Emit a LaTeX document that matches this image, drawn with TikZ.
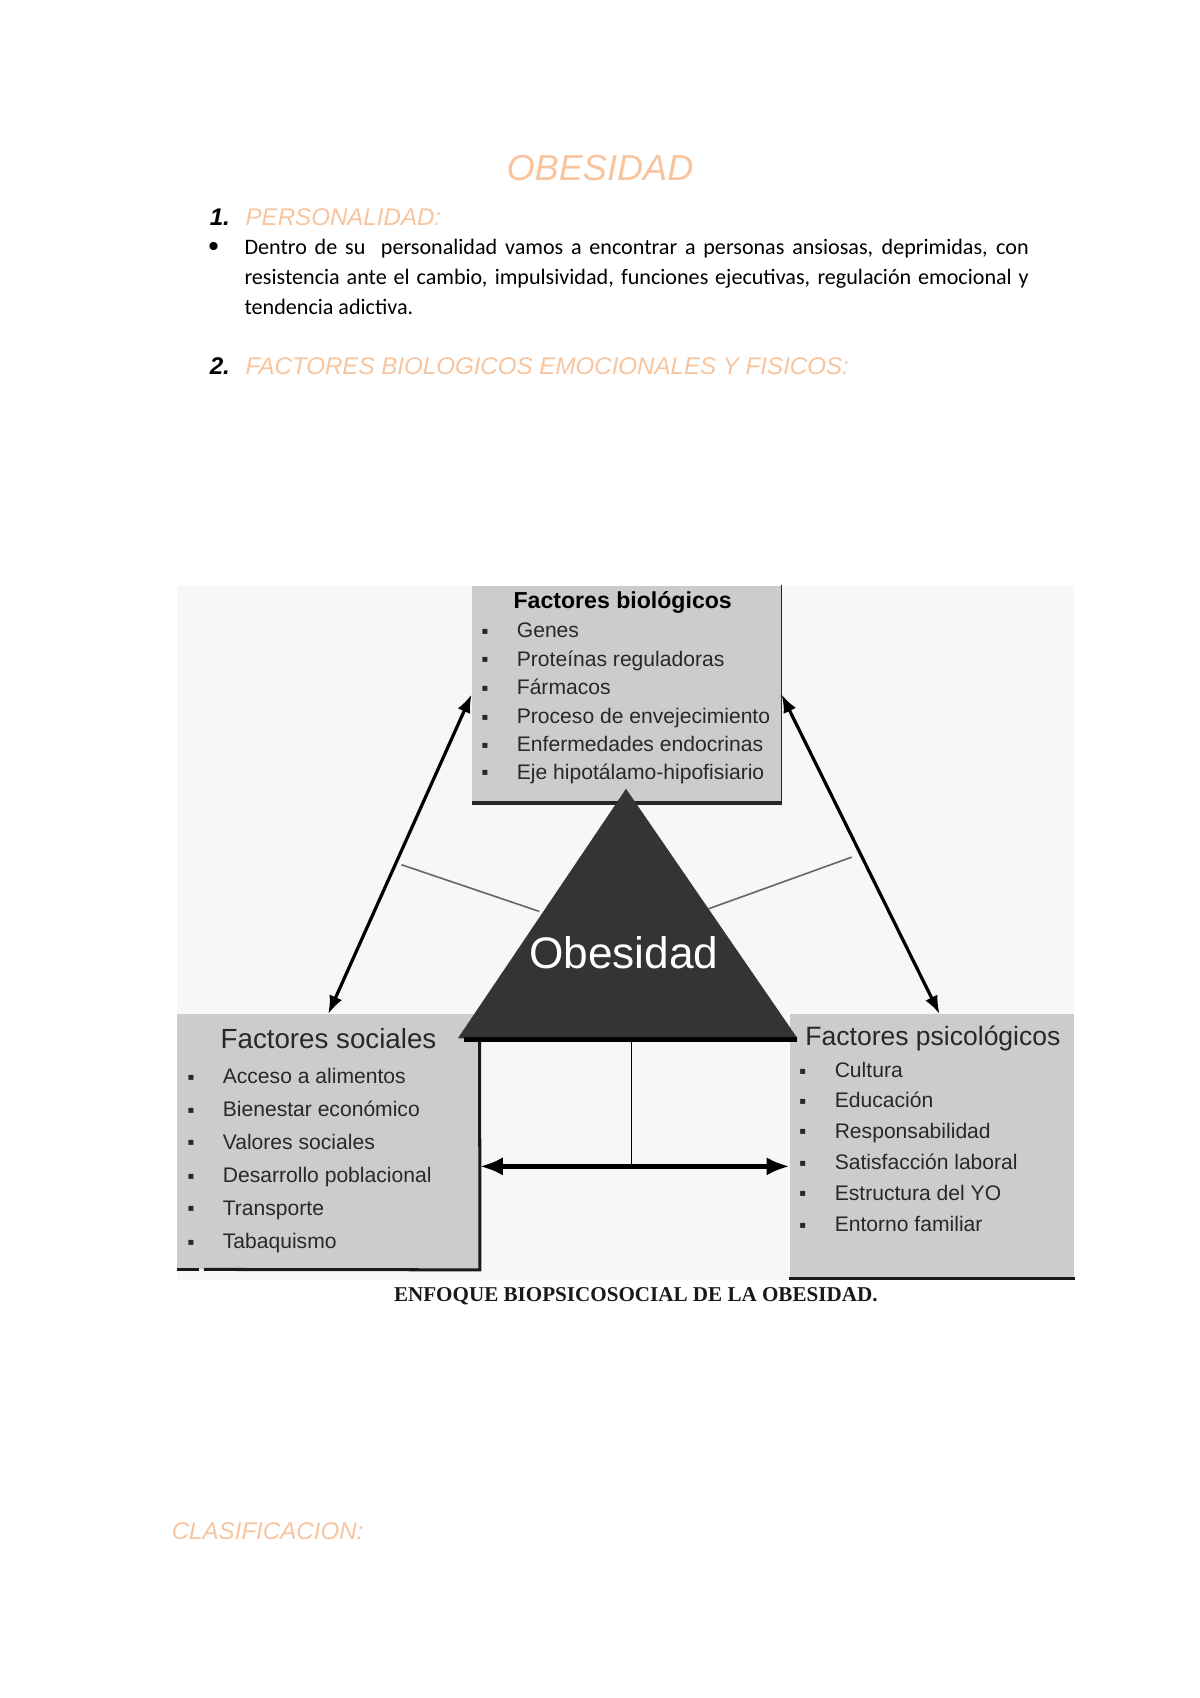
\documentclass[tikz,border=0pt]{standalone}
\usepackage{fontspec}
\setmainfont{Liberation Sans}
\newfontfamily\bodyfont{Carlito}
\newfontfamily\capfont{Liberation Serif}
\newfontfamily\symfont{DejaVu Sans}
\usepackage{tikz}
\usetikzlibrary{calc, positioning, shapes, arrows, arrows.meta, fit}
\definecolor{peach}{RGB}{247,196,158}
\definecolor{boxgray}{RGB}{204,204,204}
\definecolor{trigray}{RGB}{52,52,52}
\definecolor{txtgray}{RGB}{40,40,40}
\newcommand\factitem[4]{\node[anchor=base, inner sep=0, text=txtgray, font=\symfont\fontsize{5}{5}\selectfont] (#1b) at (#2,#3-3) {▪};\node[anchor=base west, inner sep=0, text=txtgray, font=\fontsize{10.5}{12}\selectfont] (#1) at (#2+29,#3) {#4};}
\newcommand\heading[4]{\node[anchor=base west, inner sep=0, font=\bfseries\itshape\fontsize{12}{14}\selectfont] (#1n) at (193,#2) {#3};\node[anchor=base west, inner sep=0, text=peach, font=\itshape\fontsize{12}{14}\selectfont] (#1) at (226,#2) {#4};}

\begin{document}
\begin{tikzpicture}[x=0.01898cm, y=-0.01898cm, >={Latex[length=0.32cm,width=0.24cm]}]
	\useasboundingbox (0,0) rectangle (1106,1565);
\node[anchor=base, inner sep=0, text=peach, font=\itshape\fontsize{18}{20}\selectfont] (titulo) at (553,166) {OBESIDAD};
\heading{pers}{208}{1.}{PERSONALIDAD:}
\node[anchor=base, inner sep=0, font=\fontsize{15}{15}\selectfont] (bul) at (197,236) {•};
\node[anchor=base west, inner sep=0, font=\bodyfont\fontsize{11}{14.7}\selectfont] (parr) at (225,235) {\parbox[t]{13.72cm}{\setlength\baselineskip{14.7pt}Dentro de su\ \ personalidad vamos a encontrar a personas ansiosas, deprimidas, con\linebreak resistencia ante el cambio, impulsividad, funciones ejecutivas, regulación emocional y\linebreak tendencia adictiva.}};
\heading{fact}{345}{2.}{FACTORES BIOLOGICOS EMOCIONALES Y FISICOS:}

% diagrama
\fill[black!3] (163,540) rectangle (990,1180);
\node[fit={(435,540) (720,740)}, inner sep=0, fill=boxgray] (bio) {};
\node[fit={(163,935) (442,1170)}, inner sep=0, fill=boxgray] (soc) {};
\node[fit={(728,935) (990,1178)}, inner sep=0, fill=boxgray] (psi) {};
\draw[line width=0.8pt, black!85] (bio.north east) -- (bio.south east);
\draw[line width=2pt, black!85] (bio.south west) -- (bio.south east);
\draw[line width=1.5pt, black!90] (442,960) -- (soc.south east) -- (188,1170);
\draw[line width=1.5pt, black!90] (163,1170) -- (183,1170);
\draw[line width=1.8pt, black!90] (psi.south west) -- (psi.south east);

\node[anchor=base west, inner sep=0, font=\bfseries\fontsize{11.5}{13}\selectfont] (biot) at (473,561) {Factores biológicos};
\factitem{b1}{447}{588}{Genes}
\factitem{b2}{447}{614}{Proteínas reguladoras}
\factitem{b3}{447}{640}{Fármacos}
\factitem{b4}{447}{667}{Proceso de envejecimiento}
\factitem{b5}{447}{693}{Enfermedades endocrinas}
\factitem{b6}{447}{718}{Eje hipotálamo-hipofisiario}

\node[anchor=base west, inner sep=0, text=txtgray, font=\fontsize{13.8}{15}\selectfont] (soct) at (203,966) {Factores sociales};
\factitem{s1}{176}{999}{Acceso a alimentos}
\factitem{s2}{176}{1029}{Bienestar económico}
\factitem{s3}{176}{1059}{Valores sociales}
\factitem{s4}{176}{1090}{Desarrollo poblacional}
\factitem{s5}{176}{1120}{Transporte}
\factitem{s6}{176}{1151}{Tabaquismo}

\node[anchor=base west, inner sep=0, text=txtgray, font=\fontsize{13.2}{15}\selectfont] (psit) at (742,964) {Factores psicológicos};
\factitem{p1}{740}{993}{Cultura}
\factitem{p2}{740}{1021}{Educación}
\factitem{p3}{740}{1049}{Responsabilidad}
\factitem{p4}{740}{1078}{Satisfacción laboral}
\factitem{p5}{740}{1106}{Estructura del YO}
\factitem{p6}{740}{1135}{Entorno familiar}

% flechas
\coordinate (junc) at (582,1075);
\coordinate (base) at (582,960);
\coordinate (izq) at (370,797);
\coordinate (der) at (785,790);
\draw[<->, line width=1.6pt] (bio.west) -- (soc.north);
\draw[<->, line width=1.6pt] (bio.east) -- ([xshift=7*0.01898cm]psi.north);
\draw[{Latex[length=0.4cm,width=0.32cm]}-{Latex[length=0.4cm,width=0.32cm]}, line width=2.2pt] (soc.east |- junc) -- (psi.west |- junc);
\draw[line width=0.7pt] (base) -- (junc);
\draw[black!60, line width=0.8pt] (izq) -- (497,840);
\draw[black!60, line width=0.8pt] (der) -- (652,838);

% triangulo
\fill[trigray] (577,727) -- (735,957) -- (422,957) -- cycle;
\draw[line width=2.5pt] (428,958) -- (735,958);
\node[text=white, inner sep=0, font=\fontsize{22}{24}\selectfont] (obes) at (575,878) {Obesidad};

\node[anchor=base, inner sep=0, text=black!90, font=\capfont\bfseries\fontsize{10.5}{12}\selectfont] (cap) at (586,1200) {ENFOQUE BIOPSICOSOCIAL DE LA OBESIDAD.};
\node[anchor=base west, inner sep=0, text=peach, font=\itshape\fontsize{12}{14}\selectfont] (clas) at (158,1419) {CLASIFICACION:};
\end{tikzpicture}
\end{document}
